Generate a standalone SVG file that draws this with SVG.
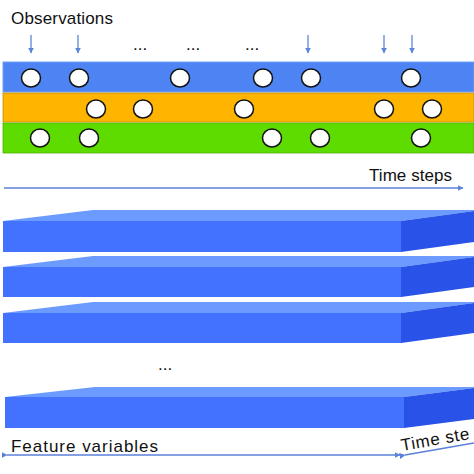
<svg xmlns="http://www.w3.org/2000/svg" width="474" height="474" viewBox="0 0 474 474">
<defs>
<style>
.t{font-family:"Liberation Sans",Arial,sans-serif;font-size:17px;fill:#111}
.obs{fill:#fff;stroke:#111;stroke-width:1.5}
.ar{stroke:#5b86d8;stroke-width:1.3;fill:none}
.ln{stroke:#5b7fd8;stroke-width:1.3;fill:none}
.top{fill:#6b9bff}
.front{fill:#4272ff}
.side{fill:#2852e8}
</style>
<marker id="ah" viewBox="0 0 10 10" refX="9" refY="5" markerWidth="6" markerHeight="6" orient="auto" markerUnits="userSpaceOnUse">
<path d="M0,0 L10,5 L0,10 z" fill="#5b86d8"/>
</marker>
<marker id="ahs" viewBox="0 0 10 10" refX="1" refY="5" markerWidth="6" markerHeight="6" orient="auto-start-reverse" markerUnits="userSpaceOnUse">
<path d="M0,0 L10,5 L0,10 z" fill="#5b7fd8" transform="rotate(180 5 5)"/>
</marker>
</defs>
<rect width="474" height="474" fill="#fff"/>

<g id="observations-label"><text class="t" x="11" y="24" textLength="102">Observations</text></g>

<g id="connectors">
<line class="ar" x1="31" y1="35" x2="31" y2="53" marker-end="url(#ah)"/>
<line class="ar" x1="78" y1="35" x2="78" y2="53" marker-end="url(#ah)"/>
<line class="ar" x1="308" y1="35" x2="308" y2="53" marker-end="url(#ah)"/>
<line class="ar" x1="384" y1="35" x2="384" y2="53" marker-end="url(#ah)"/>
<line class="ar" x1="412" y1="35" x2="412" y2="53" marker-end="url(#ah)"/>
<line class="ln" x1="4" y1="188" x2="463" y2="188" marker-end="url(#ah)"/>
<line class="ln" x1="7" y1="455" x2="400" y2="455" marker-start="url(#ahs)" marker-end="url(#ah)"/>
<line class="ln" x1="405" y1="455" x2="474" y2="443" marker-start="url(#ahs)"/>
</g>

<g id="ellipsis-top">
<text class="t" x="133" y="50">...</text>
<text class="t" x="186" y="50">...</text>
<text class="t" x="245" y="50">...</text>
</g>

<g id="band-blue">
<rect x="3" y="62" width="471" height="30" fill="#4e83f3" stroke="#6f9ff7" stroke-width="1"/>
<ellipse class="obs" cx="31" cy="78" rx="9.5" ry="9"/>
<ellipse class="obs" cx="79" cy="78" rx="9.5" ry="9"/>
<ellipse class="obs" cx="180" cy="78" rx="9.5" ry="9"/>
<ellipse class="obs" cx="263" cy="78" rx="9.5" ry="9"/>
<ellipse class="obs" cx="311" cy="78" rx="9.5" ry="9"/>
<ellipse class="obs" cx="411" cy="78" rx="9.5" ry="9"/>
</g>
<g id="band-orange">
<rect x="3" y="93" width="471" height="29" fill="#ffb400" stroke="#c99000" stroke-width="0.8"/>
<ellipse class="obs" cx="96" cy="109" rx="9.5" ry="9"/>
<ellipse class="obs" cx="143" cy="109" rx="9.5" ry="9"/>
<ellipse class="obs" cx="244" cy="109" rx="9.5" ry="9"/>
<ellipse class="obs" cx="384" cy="109" rx="9.5" ry="9"/>
<ellipse class="obs" cx="432" cy="109" rx="9.5" ry="9"/>
</g>
<g id="band-green">
<rect x="3" y="123" width="471" height="30" fill="#5edc00" stroke="#4fb000" stroke-width="0.8"/>
<ellipse class="obs" cx="40" cy="138" rx="9.5" ry="9"/>
<ellipse class="obs" cx="89" cy="138" rx="9.5" ry="9"/>
<ellipse class="obs" cx="272" cy="138" rx="9.5" ry="9"/>
<ellipse class="obs" cx="320" cy="138" rx="9.5" ry="9"/>
<ellipse class="obs" cx="421" cy="138" rx="9.5" ry="9"/>
</g>

<g id="time-steps-label"><text class="t" x="369" y="181" textLength="83">Time steps</text></g>

<g id="slab-1">
<polygon class="top" points="3,221 93,210 474,210 474,211 401,221"/>
<rect class="front" x="3" y="221" width="398" height="31"/>
<polygon class="side" points="401,221 474,211 474,242 401,252"/>
</g>
<g id="slab-2">
<polygon class="top" points="3,267 93,256 474,256 474,257 401,267"/>
<rect class="front" x="3" y="267" width="398" height="30"/>
<polygon class="side" points="401,267 474,257 474,287 401,297"/>
</g>
<g id="slab-3">
<polygon class="top" points="3,313 93,302 474,302 474,303 401,313"/>
<rect class="front" x="3" y="313" width="398" height="30"/>
<polygon class="side" points="401,313 474,303 474,333 401,343"/>
</g>
<g id="ellipsis-mid"><text class="t" x="158" y="370">...</text></g>
<g id="slab-4">
<polygon class="top" points="5,397 95,387 474,387 474,388 404,397"/>
<rect class="front" x="5" y="397" width="399" height="31"/>
<polygon class="side" points="404,397 474,388 474,419 404,428"/>
</g>

<g id="feature-variables-label"><text class="t" x="11" y="452" font-size="18" textLength="147">Feature variables</text></g>
<g id="time-steps-label-2"><text class="t" x="402" y="451" font-size="18" textLength="69" transform="rotate(-10 402 451)">Time ste</text></g>
</svg>
